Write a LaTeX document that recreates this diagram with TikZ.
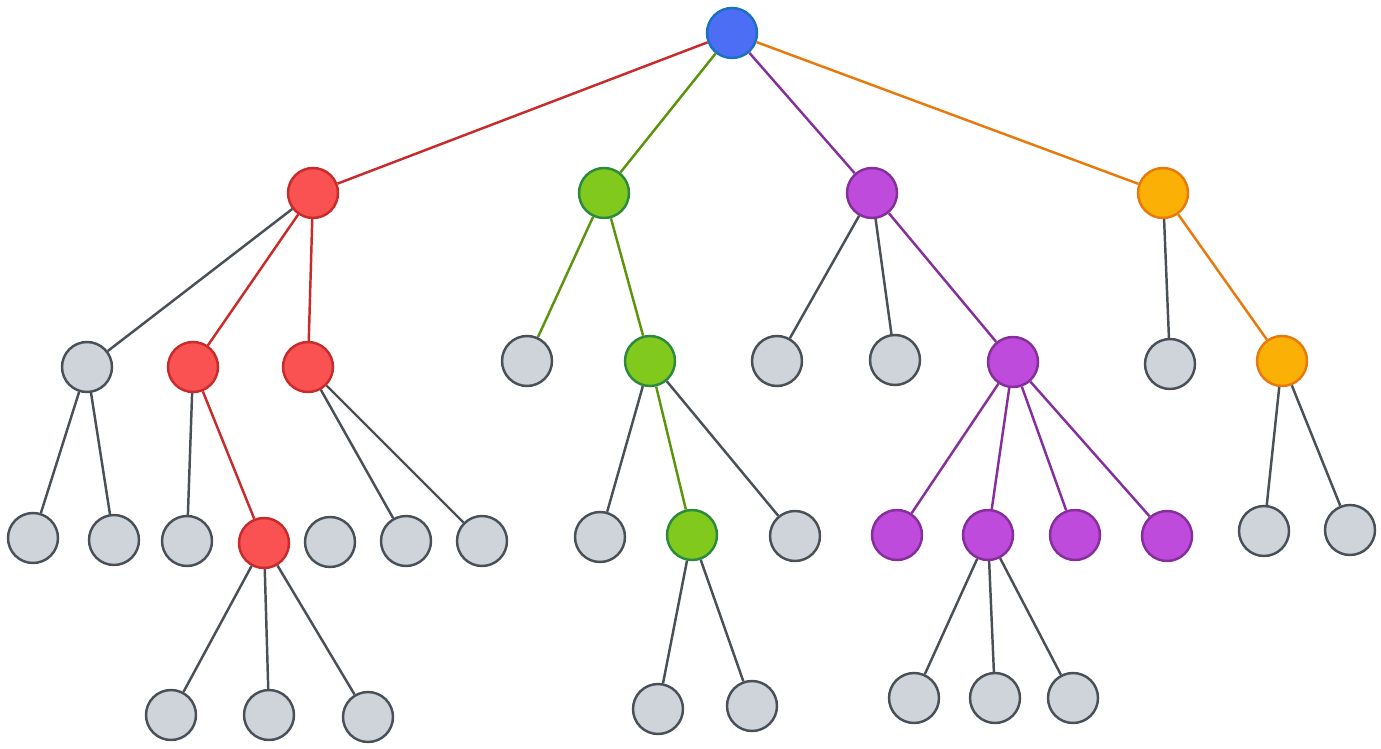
\documentclass[tikz,border=0pt]{standalone}
\definecolor{greyfill}{HTML}{CED4DA}
\definecolor{greyline}{HTML}{495057}
\definecolor{bluefill}{HTML}{4C6EF5}
\definecolor{blueline}{HTML}{1971C2}
\definecolor{redfill}{HTML}{FA5252}
\definecolor{redline}{HTML}{C92A2A}
\definecolor{greenfill}{HTML}{82C91E}
\definecolor{greenline}{HTML}{2B8A3E}
\definecolor{greenedge}{HTML}{5C940D}
\definecolor{purplefill}{HTML}{BE4BDB}
\definecolor{purpleline}{HTML}{862E9C}
\definecolor{orangefill}{HTML}{FAB005}
\definecolor{orangeline}{HTML}{E8790C}
\begin{document}
\begin{tikzpicture}[x=0.02cm,y=-0.02cm,
  dot/.style={circle, minimum size=1cm, inner sep=0pt, line width=1.4pt},
  grey/.style={dot, fill=greyfill, draw=greyline},
  blu/.style={dot, fill=bluefill, draw=blueline},
  rd/.style={dot, fill=redfill, draw=redline},
  grn/.style={dot, fill=greenfill, draw=greenline},
  prp/.style={dot, fill=purplefill, draw=purpleline},
  org/.style={dot, fill=orangefill, draw=orangeline},
  e/.style={line width=1.4pt, draw=greyline},
  er/.style={line width=1.4pt, draw=redline},
  eg/.style={line width=1.4pt, draw=greenedge},
  ep/.style={line width=1.4pt, draw=purpleline},
  eo/.style={line width=1.4pt, draw=orangeline}]
\useasboundingbox (0,0) rectangle (1381,749);
% root and first level
\node[blu] (root) at (732,33) {};
\node[rd] (r1) at (313,193) {};
\node[grn] (g1) at (604,193) {};
\node[prp] (p1) at (872,193) {};
\node[org] (o1) at (1163,193) {};
% second level
\node[grey] (a) at (87,367) {};
\node[rd] (r2) at (193,367) {};
\node[rd] (r3) at (308,367) {};
\node[grey] (b) at (527,361) {};
\node[grn] (g2) at (650,361) {};
\node[grey] (c) at (777,361) {};
\node[grey] (d) at (895,360) {};
\node[prp] (p2) at (1013,362) {};
\node[grey] (f) at (1170,364) {};
\node[org] (o2) at (1282,361) {};
% third level
\node[grey] (a1) at (33,538) {};
\node[grey] (a2) at (114,540) {};
\node[grey] (r21) at (187,541) {};
\node[rd] (r4) at (264,543) {};
\node[grey] (lone) at (330,542) {};
\node[grey] (r31) at (406,541) {};
\node[grey] (r32) at (482,541) {};
\node[grey] (g21) at (600,537) {};
\node[grn] (g3) at (692,535) {};
\node[grey] (g22) at (795,536) {};
\node[prp] (p21) at (897,535) {};
\node[prp] (p3) at (988,535) {};
\node[prp] (p22) at (1075,535) {};
\node[prp] (p23) at (1167,536) {};
\node[grey] (o21) at (1264,531) {};
\node[grey] (o22) at (1350,530) {};
% fourth level
\node[grey] (r41) at (171,715) {};
\node[grey] (r42) at (269,715) {};
\node[grey] (r43) at (368,717) {};
\node[grey] (g31) at (658,709) {};
\node[grey] (g32) at (752,706) {};
\node[grey] (p31) at (914,698) {};
\node[grey] (p32) at (995,698) {};
\node[grey] (p33) at (1073,698) {};
% edges
\draw[er] (root) -- (r1);
\draw[eg] (root) -- (g1);
\draw[ep] (root) -- (p1);
\draw[eo] (root) -- (o1);
\draw[e] (r1) -- (a);
\draw[er] (r1) -- (r2);
\draw[er] (r1) -- (r3);
\draw[e] (a) -- (a1);
\draw[e] (a) -- (a2);
\draw[e] (r2) -- (r21);
\draw[er] (r2) -- (r4);
\draw[e] (r3) -- (r31);
\draw[e] (r3) -- (r32);
\foreach \n in {r41,r42,r43} \draw[e] (r4) -- (\n);
\draw[eg] (g1) -- (b);
\draw[eg] (g1) -- (g2);
\draw[e] (g2) -- (g21);
\draw[eg] (g2) -- (g3);
\draw[e] (g2) -- (g22);
\foreach \n in {g31,g32} \draw[e] (g3) -- (\n);
\draw[e] (p1) -- (c);
\draw[e] (p1) -- (d);
\draw[ep] (p1) -- (p2);
\foreach \n in {p21,p3,p22,p23} \draw[ep] (p2) -- (\n);
\foreach \n in {p31,p32,p33} \draw[e] (p3) -- (\n);
\draw[e] (o1) -- (f);
\draw[eo] (o1) -- (o2);
\foreach \n in {o21,o22} \draw[e] (o2) -- (\n);
\end{tikzpicture}
\end{document}
